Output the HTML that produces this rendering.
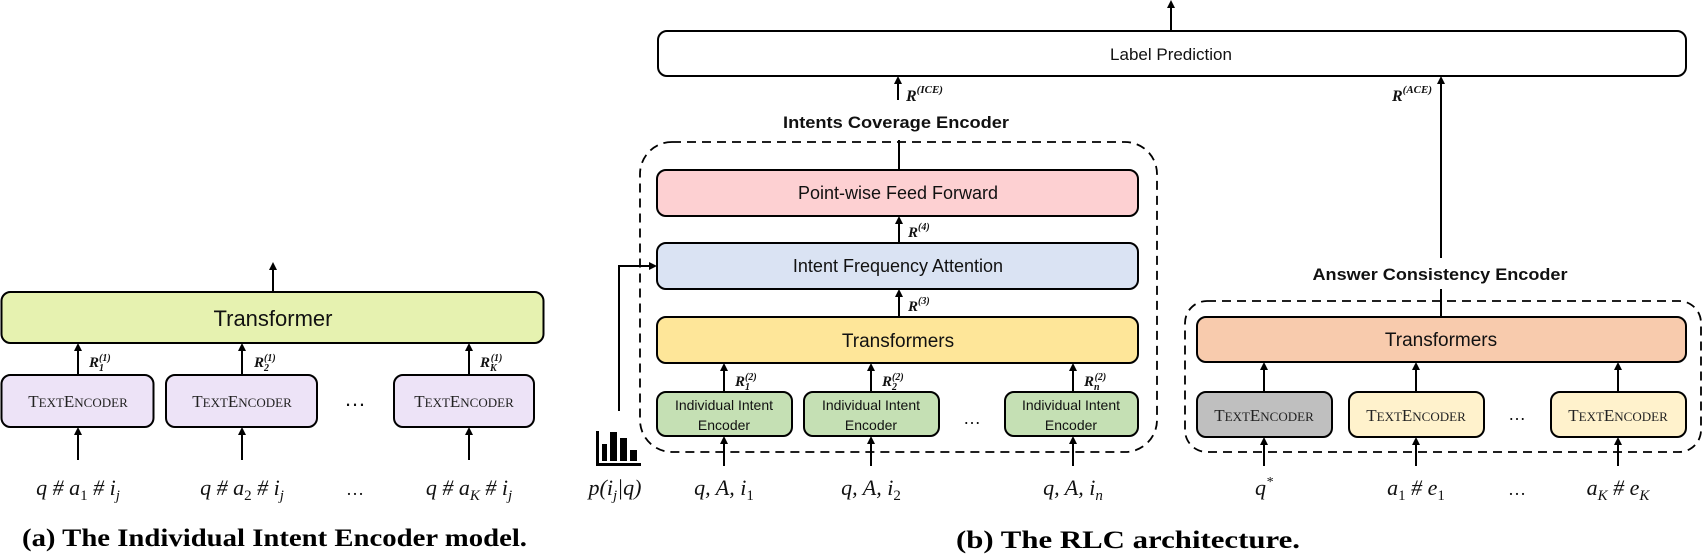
<!DOCTYPE html>
<html><head><meta charset="utf-8"><style>
html,body{margin:0;padding:0;background:#fff;}
svg{display:block;}
.s{font-family:"Liberation Sans",sans-serif;fill:#111;}
.m{font-family:"Liberation Serif",serif;font-style:italic;fill:#111;}
.n{font-style:normal;}
.sc{font-family:"Liberation Serif",serif;fill:#222;}
.r{font-family:"Liberation Serif",serif;font-weight:bold;font-style:italic;fill:#111;}
.cap{font-family:"Liberation Serif",serif;font-weight:bold;fill:#000;}
</style></head><body>
<svg width="1708" height="556" viewBox="0 0 1708 556" xmlns="http://www.w3.org/2000/svg">
<defs>
<marker id="a" markerWidth="8" markerHeight="8" refX="4" refY="4" orient="auto" markerUnits="userSpaceOnUse">
<path d="M0,0 L8,4 L0,8 z" fill="#000"/></marker>
</defs>
<g stroke="#000" stroke-width="2" fill="none">
<line x1="273" y1="292" x2="273" y2="266" marker-end="url(#a)"/>
<rect x="1.5" y="292" width="542" height="51" rx="9" fill="#e6f2b0"/>
<rect x="1.5" y="375" width="152" height="52" rx="9" fill="#ede3f7"/>
<rect x="166" y="375" width="151" height="52" rx="9" fill="#ede3f7"/>
<rect x="394" y="375" width="140" height="52" rx="9" fill="#ede3f7"/>
<line x1="78" y1="375" x2="78" y2="347" marker-end="url(#a)"/>
<line x1="242" y1="375" x2="242" y2="347" marker-end="url(#a)"/>
<line x1="469" y1="375" x2="469" y2="347" marker-end="url(#a)"/>
<line x1="78" y1="460" x2="78" y2="431" marker-end="url(#a)"/>
<line x1="242" y1="460" x2="242" y2="431" marker-end="url(#a)"/>
<line x1="469" y1="460" x2="469" y2="431" marker-end="url(#a)"/>

<line x1="1171" y1="31" x2="1171" y2="4" marker-end="url(#a)"/>
<rect x="658" y="31" width="1028" height="45" rx="9" fill="#fff"/>
<line x1="898" y1="100" x2="898" y2="80" marker-end="url(#a)"/>
<line x1="1441" y1="258" x2="1441" y2="80" marker-end="url(#a)"/>

<rect x="640" y="142" width="517" height="310" rx="32" stroke-dasharray="9,6" stroke-width="1.8"/>
<line x1="899" y1="170" x2="899" y2="140"/>
<rect x="657" y="170" width="481" height="46" rx="9" fill="#fdd0d2"/>
<line x1="899" y1="243" x2="899" y2="220" marker-end="url(#a)"/>
<rect x="657" y="243" width="481" height="46" rx="9" fill="#dae3f3"/>
<line x1="899" y1="317" x2="899" y2="293" marker-end="url(#a)"/>
<rect x="657" y="317" width="481" height="46" rx="9" fill="#fee699"/>
<rect x="657" y="392" width="135" height="44" rx="9" fill="#c5e0b4"/>
<rect x="804" y="392" width="135" height="44" rx="9" fill="#c5e0b4"/>
<rect x="1005" y="392" width="133" height="44" rx="9" fill="#c5e0b4"/>
<line x1="724" y1="392" x2="724" y2="367" marker-end="url(#a)"/>
<line x1="871" y1="392" x2="871" y2="367" marker-end="url(#a)"/>
<line x1="1073" y1="392" x2="1073" y2="367" marker-end="url(#a)"/>
<line x1="724" y1="466" x2="724" y2="440" marker-end="url(#a)"/>
<line x1="871" y1="466" x2="871" y2="440" marker-end="url(#a)"/>
<line x1="1073" y1="466" x2="1073" y2="440" marker-end="url(#a)"/>
<polyline points="619,411 619,266 653,266" marker-end="url(#a)"/>

<line x1="1441" y1="317" x2="1441" y2="289"/>
<rect x="1185" y="301" width="516" height="151" rx="22" stroke-dasharray="9,6" stroke-width="1.8"/>
<rect x="1197" y="317" width="489" height="45" rx="9" fill="#f8cbad"/>
<rect x="1197" y="392" width="135" height="45" rx="9" fill="#bfbfbf"/>
<rect x="1349" y="392" width="135" height="45" rx="9" fill="#fff2cc"/>
<rect x="1551" y="392" width="135" height="45" rx="9" fill="#fff2cc"/>
<line x1="1264" y1="392" x2="1264" y2="366" marker-end="url(#a)"/>
<line x1="1416" y1="392" x2="1416" y2="366" marker-end="url(#a)"/>
<line x1="1618" y1="392" x2="1618" y2="366" marker-end="url(#a)"/>
<line x1="1264" y1="466" x2="1264" y2="441" marker-end="url(#a)"/>
<line x1="1416" y1="466" x2="1416" y2="441" marker-end="url(#a)"/>
<line x1="1618" y1="466" x2="1618" y2="441" marker-end="url(#a)"/>
</g>
<g fill="#000">
<rect x="596" y="431" width="3" height="35"/>
<rect x="596" y="463" width="45" height="3"/>
<rect x="602" y="444" width="5" height="17"/>
<rect x="610" y="432" width="7" height="29"/>
<rect x="620" y="438" width="7" height="23"/>
<rect x="630" y="450" width="7" height="11"/>
</g>

<text class="s" x="273" y="326" font-size="22" text-anchor="middle">Transformer</text>
<g class="sc" text-anchor="middle" font-size="17">
<text x="78" y="407">T<tspan font-size="13">EXT</tspan>E<tspan font-size="13">NCODER</tspan></text>
<text x="242" y="407">T<tspan font-size="13">EXT</tspan>E<tspan font-size="13">NCODER</tspan></text>
<text x="464" y="407">T<tspan font-size="13">EXT</tspan>E<tspan font-size="13">NCODER</tspan></text>
<text x="1264" y="421">T<tspan font-size="13">EXT</tspan>E<tspan font-size="13">NCODER</tspan></text>
<text x="1416" y="421">T<tspan font-size="13">EXT</tspan>E<tspan font-size="13">NCODER</tspan></text>
<text x="1618" y="421">T<tspan font-size="13">EXT</tspan>E<tspan font-size="13">NCODER</tspan></text>
</g>
<g class="r" font-size="15">
<text x="89" y="367">R<tspan font-size="10" dy="4">1</tspan><tspan font-size="10" dy="-10" dx="-5">(1)</tspan></text>
<text x="254" y="367">R<tspan font-size="10" dy="4">2</tspan><tspan font-size="10" dy="-10" dx="-5">(1)</tspan></text>
<text x="480" y="367">R<tspan font-size="10" dy="4">K</tspan><tspan font-size="10" dy="-10" dx="-6">(1)</tspan></text>
<text x="735" y="386">R<tspan font-size="10" dy="4">1</tspan><tspan font-size="10" dy="-10" dx="-5">(2)</tspan></text>
<text x="882" y="386">R<tspan font-size="10" dy="4">2</tspan><tspan font-size="10" dy="-10" dx="-5">(2)</tspan></text>
<text x="1084" y="386">R<tspan font-size="10" dy="4">n</tspan><tspan font-size="10" dy="-10" dx="-5">(2)</tspan></text>
<text x="908" y="237">R<tspan font-size="10" dy="-7">(4)</tspan></text>
<text x="908" y="311">R<tspan font-size="10" dy="-7">(3)</tspan></text>
<text x="906" y="101" font-size="16">R<tspan font-size="11" dy="-8">(ICE)</tspan></text>
<text x="1392" y="101" font-size="16">R<tspan font-size="11" dy="-8">(ACE)</tspan></text>
</g>
<g class="s" font-size="22" text-anchor="middle"><text x="355" y="406">…</text><text x="972" y="424" font-size="18">…</text><text x="1517" y="420" font-size="18">…</text></g>
<g class="m" font-size="22" text-anchor="middle">
<text x="78" y="495">q # a<tspan class="n" font-size="15" dy="5">1</tspan><tspan dy="-5"> # i</tspan><tspan font-size="15" dy="5">j</tspan></text>
<text x="242" y="495">q # a<tspan class="n" font-size="15" dy="5">2</tspan><tspan dy="-5"> # i</tspan><tspan font-size="15" dy="5">j</tspan></text>
<text x="355" y="495" font-size="18" font-style="normal">…</text>
<text x="469" y="495">q # a<tspan font-size="15" dy="5">K</tspan><tspan dy="-5"> # i</tspan><tspan font-size="15" dy="5">j</tspan></text>
<text x="615" y="495">p(i<tspan font-size="15" dy="5">j</tspan><tspan dy="-5">|q)</tspan></text>
<text x="724" y="495">q, A, i<tspan class="n" font-size="15" dy="5">1</tspan></text>
<text x="871" y="495">q, A, i<tspan class="n" font-size="15" dy="5">2</tspan></text>
<text x="1073" y="495">q, A, i<tspan font-size="15" dy="5">n</tspan></text>
<text x="1264" y="495">q<tspan font-size="14" dy="-9">*</tspan></text>
<text x="1416" y="495">a<tspan class="n" font-size="15" dy="5">1</tspan><tspan dy="-5"> # e</tspan><tspan class="n" font-size="15" dy="5">1</tspan></text>
<text x="1517" y="495" font-size="18" font-style="normal">…</text>
<text x="1618" y="495">a<tspan font-size="15" dy="5">K</tspan><tspan dy="-5"> # e</tspan><tspan font-size="15" dy="5">K</tspan></text>
</g>
<g class="s" text-anchor="middle">
<text x="1171" y="60" font-size="17">Label Prediction</text>
<text x="898" y="199" font-size="18">Point-wise Feed Forward</text>
<text x="898" y="272" font-size="18">Intent Frequency Attention</text>
<text x="898" y="347" font-size="19">Transformers</text>
<text x="1441" y="346" font-size="19">Transformers</text>
<text x="724" y="410" font-size="14">Individual Intent</text><text x="724" y="430" font-size="14">Encoder</text>
<text x="871" y="410" font-size="14">Individual Intent</text><text x="871" y="430" font-size="14">Encoder</text>
<text x="1071" y="410" font-size="14">Individual Intent</text><text x="1071" y="430" font-size="14">Encoder</text>
<text x="896" y="128" font-size="17" font-weight="bold" textLength="226" lengthAdjust="spacingAndGlyphs">Intents Coverage Encoder</text>
<text x="1440" y="280" font-size="17" font-weight="bold" textLength="255" lengthAdjust="spacingAndGlyphs">Answer Consistency Encoder</text>
</g>
<text class="cap" x="22" y="546" font-size="25" textLength="505" lengthAdjust="spacingAndGlyphs">(a) The Individual Intent Encoder model.</text>
<text class="cap" x="956" y="548" font-size="25" textLength="344" lengthAdjust="spacingAndGlyphs">(b) The RLC architecture.</text>
</svg>
</body></html>
